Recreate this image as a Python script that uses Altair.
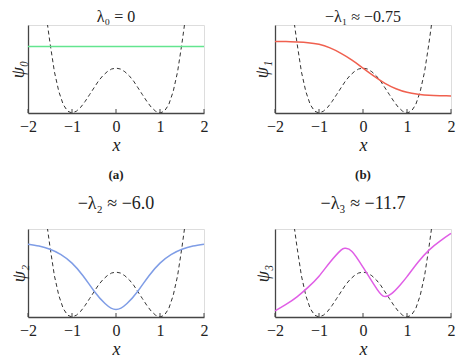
import altair as alt
import pandas as pd

FONT = "Liberation Serif"
W, H = 176, 88
YMAX = 1.96

# double-well potential (dashed)
pot_x = [-1.56, -1.5, -1.4, -1.3, -1.2, -1.1, -1.0, -0.9, -0.8, -0.7, -0.6, -0.5, -0.4, -0.3, -0.2, -0.1, 0.0,
         0.1, 0.2, 0.3, 0.4, 0.5, 0.6, 0.7, 0.8, 0.9, 1.0, 1.1, 1.2, 1.3, 1.4, 1.5, 1.56]
pot_v = [1.99, 1.56, 0.92, 0.48, 0.19, 0.04, 0.0, 0.04, 0.13, 0.26, 0.41, 0.56, 0.71, 0.83, 0.92, 0.98, 1.0,
         0.98, 0.92, 0.83, 0.71, 0.56, 0.41, 0.26, 0.13, 0.04, 0.0, 0.04, 0.19, 0.48, 0.92, 1.56, 1.99]

# eigenfunctions
psi0_x = [-2.0, 2.0]
psi0_y = [1.48, 1.48]

psi1_x = [-2.0, -1.75, -1.5, -1.25, -1.0, -0.75, -0.5, -0.25, 0.0, 0.25, 0.5, 0.75, 1.0, 1.25, 1.5, 1.75, 2.0]
psi1_y = [1.59, 1.59, 1.58, 1.565, 1.53, 1.45, 1.33, 1.18, 1.0, 0.82, 0.66, 0.54, 0.46, 0.42, 0.395, 0.385, 0.38]

psi2_x = [-2.0, -1.75, -1.5, -1.25, -1.0, -0.75, -0.5, -0.25, 0.0, 0.25, 0.5, 0.75, 1.0, 1.25, 1.5, 1.75, 2.0]
psi2_y = [1.62, 1.58, 1.51, 1.39, 1.20, 0.92, 0.58, 0.30, 0.165, 0.30, 0.58, 0.92, 1.20, 1.39, 1.51, 1.58, 1.62]

psi3_x = [-2.0, -1.75, -1.5, -1.25, -1.0, -0.75, -0.5, -0.4, -0.25, 0.0, 0.25, 0.45, 0.65, 0.85, 1.0, 1.25, 1.5, 1.75, 2.0]
psi3_y = [0.135, 0.28, 0.45, 0.66, 0.91, 1.22, 1.49, 1.53, 1.46, 1.11, 0.72, 0.47, 0.52, 0.72, 0.90, 1.22, 1.49, 1.69, 1.86]

tick_x = [-2, -1, 0, 1, 2]

titles = ["λ₀ = 0", "−λ₁ ≈ −0.75", "−λ₂ ≈ −6.0", "−λ₃ ≈ −11.7"]
ytitles = ["ψ₀", "ψ₁", "ψ₂", "ψ₃"]
colors = ["#63e58f", "#f0604f", "#7f9de6", "#e05ee6"]
captions = ["(a)", "(b)", None, None]

pot_df = pd.DataFrame({"x": pot_x, "v": pot_v})
tick_df = pd.DataFrame({"x": tick_x})

AX = "#454545"


def panel(xs, ys, color, ytitle, title, caption, title_size, title_offset, ytitle_pad):
    xsc = alt.Scale(domain=[-2, 2], nice=False, zero=False)
    ysc = alt.Scale(domain=[0, YMAX], nice=False, zero=False)
    xax = alt.Axis(values=tick_x, ticks=False, grid=False, domainColor=AX, domainWidth=1.3,
                   labelFont=FONT, labelFontSize=16, labelColor="#222", labelPadding=5,
                   title="x", titleFont=FONT, titleFontSize=18, titleFontStyle="italic",
                   titleFontWeight="normal", titleColor="#222", titlePadding=2, labelFlush=False)
    yax = alt.Axis(labels=False, ticks=False, grid=False, domainColor=AX, domainWidth=1.3,
                   title=ytitle, titleFont=FONT, titleFontSize=18, titleFontStyle="italic",
                   titleFontWeight="normal", titleColor="#222", titlePadding=ytitle_pad)
    pot = alt.Chart(pot_df).mark_line(strokeDash=[4, 3], color="#333", strokeWidth=1, clip=True).encode(
        x=alt.X("x:Q", scale=xsc, axis=xax),
        y=alt.Y("v:Q", scale=ysc, axis=yax),
    )
    df = pd.DataFrame({"x": xs, "y": ys})
    curve = alt.Chart(df).mark_line(color=color, strokeWidth=1.5, interpolate="natural").encode(
        x=alt.X("x:Q", scale=xsc), y=alt.Y("y:Q", scale=ysc)
    )
    ticks = alt.Chart(tick_df).mark_rule(color=AX, strokeWidth=1).encode(
        x=alt.X("x:Q", scale=xsc), y=alt.value(H), y2=alt.value(H - 4)
    )
    layers = [pot, curve, ticks]
    if caption:
        cap = alt.Chart(pd.DataFrame({"t": [caption]})).mark_text(
            font=FONT, fontSize=13, fontWeight="bold", color="#222"
        ).encode(x=alt.value(W / 2), y=alt.value(H + 62), text="t:N")
        layers.append(cap)
    return alt.layer(*layers).properties(
        width=W, height=H,
        title=alt.TitleParams(title, font=FONT, fontSize=title_size, fontWeight="normal", color="#222",
                              offset=title_offset),
    )


a = panel(psi0_x, psi0_y, colors[0], ytitles[0], titles[0], captions[0], 16, 0, 1)
b = panel(psi1_x, psi1_y, colors[1], ytitles[1], titles[1], captions[1], 16, 0, 4)
c = panel(psi2_x, psi2_y, colors[2], ytitles[2], titles[2], None, 18, 16, 0)
d = panel(psi3_x, psi3_y, colors[3], ytitles[3], titles[3], None, 18, 16, 3)

top = alt.hconcat(a, b, spacing=43)
bottom = alt.hconcat(c, d, spacing=44)
chart = alt.vconcat(top, bottom, spacing=11).properties(
    padding={"left": 0, "top": 0, "right": 0, "bottom": 0}
).configure_view(stroke=None).configure(background="white")

chart.save("out.html", embed_options={"renderer": "svg", "actions": False})
